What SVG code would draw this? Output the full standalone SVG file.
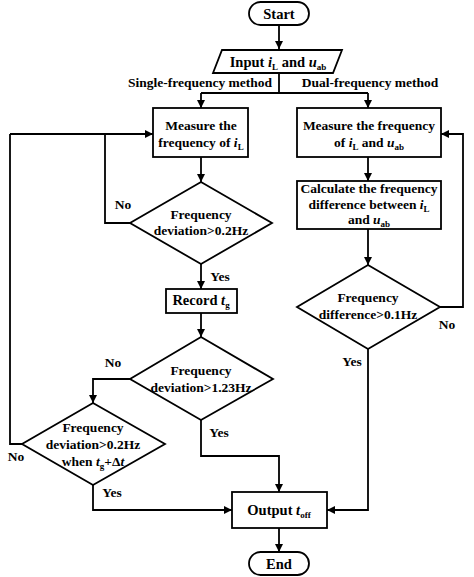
<svg xmlns="http://www.w3.org/2000/svg" width="474" height="577" viewBox="0 0 474 577">
<defs>
<marker id="arr" viewBox="0 0 10 10" refX="10" refY="5" markerWidth="8" markerHeight="8" markerUnits="userSpaceOnUse" orient="auto">
<path d="M0,0 L10,5 L0,10 Z" fill="#000"/>
</marker>
</defs>
<style>
.s{fill:#fff;stroke:#000;stroke-width:1.8}
.c{fill:none;stroke:#000;stroke-width:1.8;marker-end:url(#arr)}
.l{fill:none;stroke:#000;stroke-width:1.8}
text{font-family:"Liberation Serif","Times New Roman",serif;font-weight:bold;font-size:13.5px;text-anchor:middle;fill:#000}
.b{font-size:14.5px}
.i{font-style:italic}
.sub{font-size:9px}
</style>
<rect width="474" height="577" fill="#fff"/>
<g id="connectors">
<path class="c" d="M279,25 V49"/>
<path class="l" d="M279,73 V93 M201,93 H368"/>
<path class="c" d="M201,93 V108"/>
<path class="c" d="M368,93 V108"/>
<path class="c" d="M201,157 V182"/>
<path class="l" d="M130,223 H105 V134"/>
<path class="c" d="M10,134 H153"/>
<path class="c" d="M201,264 V289"/>
<path class="c" d="M201,313 V337"/>
<path class="c" d="M130,379 H93 V403"/>
<path class="l" d="M22,444 H10 V134"/>
<path class="c" d="M93,485 V510 H232"/>
<path class="c" d="M201,420 V456 H279 V492"/>
<path class="c" d="M279,528 V552"/>
<path class="c" d="M368,157 V181"/>
<path class="c" d="M368,229 V265"/>
<path class="c" d="M440,307 H463 V134 H441"/>
<path class="c" d="M368,349 V510 H327"/>
</g>
<g id="labels">
<text x="200" y="87">Single-frequency method</text>
<text x="370" y="87">Dual-frequency method</text>
<text x="123" y="209">No</text>
<text x="220" y="281">Yes</text>
<text x="113" y="367">No</text>
<text x="219" y="437">Yes</text>
<text x="16" y="461">No</text>
<text x="112" y="497">Yes</text>
<text x="352" y="366">Yes</text>
<text x="447" y="329">No</text>
</g>
<g id="start">
<rect class="s" x="249" y="2" width="60" height="23" rx="11.5"/>
<text class="b" x="279" y="19">Start</text>
</g>
<g id="input">
<polygon class="s" points="222,50 342,50 333,73 213,73"/>
<text class="b" x="278" y="67">Input <tspan class="i">i</tspan><tspan class="sub" dy="2.5">L</tspan><tspan dy="-2.5"> and </tspan><tspan class="i">u</tspan><tspan class="sub" dy="2.5">ab</tspan></text>
</g>
<g id="measure-il">
<rect class="s" x="153" y="108" width="95" height="49"/>
<text x="201" y="130">Measure the</text>
<text x="201" y="147">frequency of <tspan class="i">i</tspan><tspan class="sub" dy="2.5">L</tspan></text>
</g>
<g id="measure-both">
<rect class="s" x="297" y="108" width="144" height="49"/>
<text x="369" y="130">Measure the frequency</text>
<text x="369" y="147">of <tspan class="i">i</tspan><tspan class="sub" dy="2.5">L</tspan><tspan dy="-2.5"> and </tspan><tspan class="i">u</tspan><tspan class="sub" dy="2.5">ab</tspan></text>
</g>
<g id="calc">
<rect class="s" x="297" y="181" width="144" height="48"/>
<text x="369" y="193">Calculate the frequency</text>
<text x="369" y="209">difference between <tspan class="i">i</tspan><tspan class="sub" dy="2.5">L</tspan></text>
<text x="369" y="224">and <tspan class="i">u</tspan><tspan class="sub" dy="2.5">ab</tspan></text>
</g>
<g id="dec1">
<polygon class="s" points="201,182 272,223 201,264 130,223"/>
<text x="201" y="219">Frequency</text>
<text x="201" y="235">deviation&gt;0.2Hz</text>
</g>
<g id="record">
<rect class="s" x="166" y="289" width="71" height="24"/>
<text class="b" x="201" y="305">Record <tspan class="i">t</tspan><tspan class="sub" dy="2.5">g</tspan></text>
</g>
<g id="dec2">
<polygon class="s" points="201,337 273,379 201,420 130,379"/>
<text x="201" y="375">Frequency</text>
<text x="201" y="392">deviation&gt;1.23Hz</text>
</g>
<g id="dec3">
<polygon class="s" points="93,403 165,444 93,485 22,444"/>
<text x="93" y="432">Frequency</text>
<text x="93" y="449">deviation&gt;0.2Hz</text>
<text x="93" y="466">when <tspan class="i">t</tspan><tspan class="sub" dy="2.5">g</tspan><tspan dy="-2.5">+Δ</tspan><tspan class="i">t</tspan></text>
</g>
<g id="dec4">
<polygon class="s" points="368,265 440,307 368,349 297,307"/>
<text x="368" y="302">Frequency</text>
<text x="368" y="319">difference&gt;0.1Hz</text>
</g>
<g id="output">
<rect class="s" x="232" y="492" width="95" height="36"/>
<text class="b" x="279" y="515">Output <tspan class="i">t</tspan><tspan class="sub" dy="2.5">off</tspan></text>
</g>
<g id="end">
<rect class="s" x="249" y="552" width="60" height="23" rx="11.5"/>
<text class="b" x="279" y="569">End</text>
</g>
</svg>
